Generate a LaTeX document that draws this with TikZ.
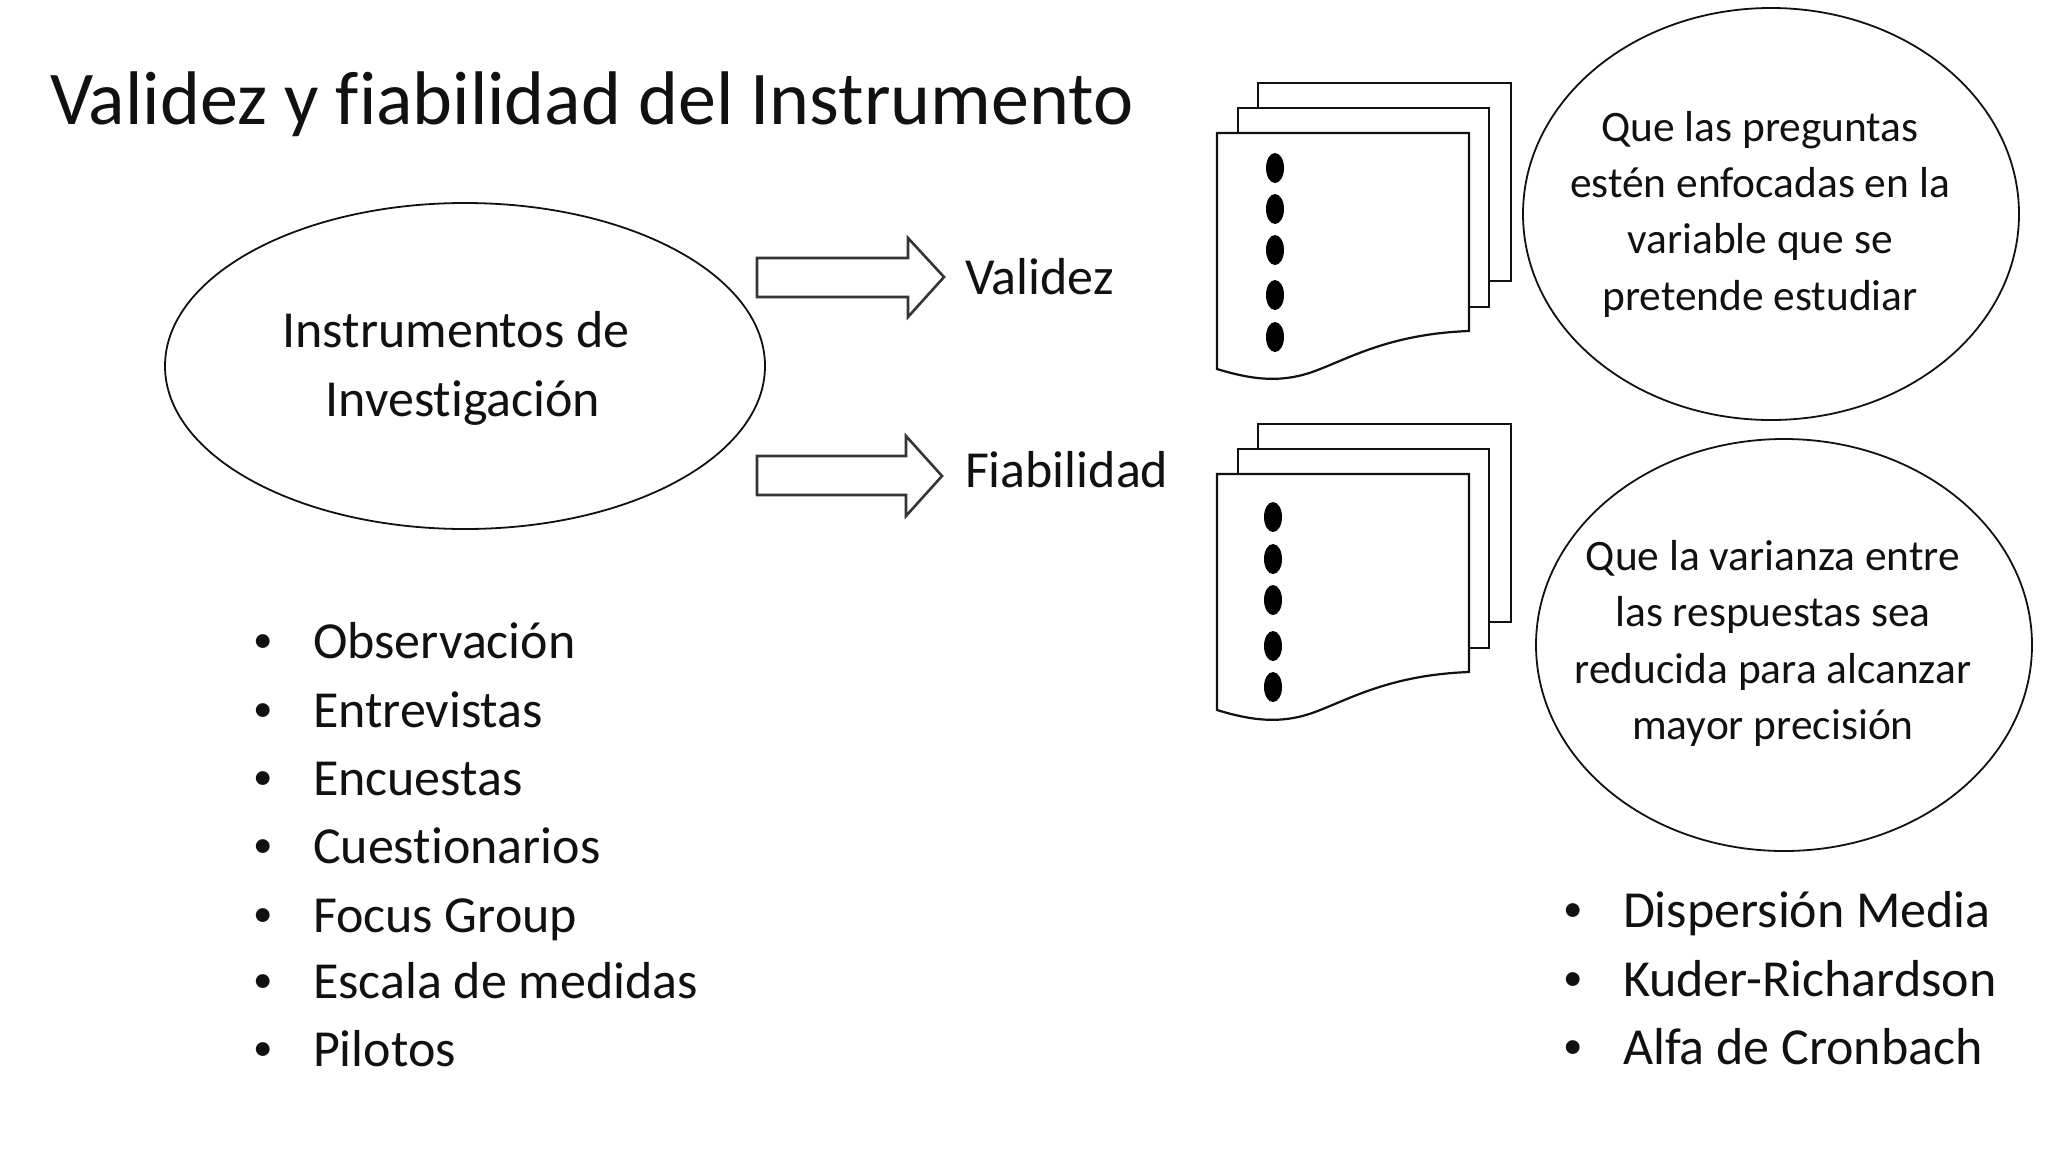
\documentclass[tikz,border=0pt]{standalone}
\usepackage{fontspec}
\setmainfont[Ligatures=NoCommon]{Carlito}
\definecolor{ink}{HTML}{111111}
\tikzset{
  x=1pt,y=-1pt,
  lbl/.style={inner sep=0pt,outer sep=0pt,anchor=base west,text=ink,font=\fontsize{52}{62}\selectfont},
  mid/.style={inner sep=0pt,outer sep=0pt,anchor=base,text=ink,font=\fontsize{43.4}{52}\selectfont},
  bul/.style={inner sep=0pt,outer sep=0pt,anchor=base,text=ink,font=\fontsize{39}{46}\selectfont},
  oval/.style={draw=ink,line width=1.8pt,fill=white},
  sheet/.style={draw=ink,line width=2.2pt,fill=white,line join=miter},
  blockarrow/.style={draw=ink!85,line width=2.6pt,fill=white,line join=miter},
  dotmark/.style={fill=black,draw=none}
}
\newcommand{\docstack}[1]{%
  \begin{scope}[yshift=-#1pt]
    \draw[sheet] (1258,83) rectangle (1511,281);
    \draw[sheet] (1238,108) rectangle (1489,307);
    \draw[sheet] (1217,133) -- (1469,133) -- (1469,331)
       .. controls (1390,334) and (1350,358) .. (1315,371)
       .. controls (1280,384) and (1250,379) .. (1217,369) -- cycle;
  \end{scope}}
\begin{document}
\begin{tikzpicture}
\useasboundingbox (0,0) rectangle (2048,1152);
\fill[white] (0,0) rectangle (2048,1152);
\node[lbl,font=\fontsize{76}{90}\selectfont] (title) at (50,124) {Validez y fiabilidad del Instrumento};

\draw[oval] (465,366) ellipse (300 and 163);
\node[lbl,anchor=base] (inst1) at (456,347) {Instrumentos de};
\node[lbl,anchor=base] (inst2) at (463,416) {Investigación};

\draw[blockarrow] (757,258) -- (908,258) -- (908,238) -- (944,277) -- (908,317) -- (908,297) -- (757,297) -- cycle;
\draw[blockarrow] (757,456) -- (906,456) -- (906,436) -- (942,476) -- (906,516) -- (906,495) -- (757,495) -- cycle;
\node[lbl] (val) at (965,294) {Validez};
\node[lbl] (fia) at (965,487) {Fiabilidad};

\docstack{0}
\foreach \yy in {168,209,250,295,337}
  \fill[dotmark] (1275,\yy) ellipse (9 and 15);
\docstack{341}
\foreach \yy in {517,559,600,646,687}
  \fill[dotmark] (1273,\yy) ellipse (9 and 15);

\draw[oval] (1771,214) ellipse (248 and 206);
\draw[oval] (1784,645) ellipse (248 and 206);
\node[mid] (a1) at (1760,141) {Que las preguntas};
\node[mid] (a2) at (1760,197) {estén enfocadas en la};
\node[mid] (a3) at (1760,253) {variable que se};
\node[mid] (a4) at (1760,310) {pretende estudiar};
\node[mid] (b1) at (1773,570) {Que la varianza entre};
\node[mid] (b2) at (1773,626) {las respuestas sea};
\node[mid] (b3) at (1773,683) {reducida para alcanzar};
\node[mid] (b4) at (1773,739) {mayor precisión};

\foreach \nm/\yy/\tx in {l1/658/Observación,l2/727/Entrevistas,l3/795/Encuestas,l4/863/Cuestionarios,l5/932/Focus Group,l6/998/Escala de medidas,l7/1066/Pilotos}{
  \node[bul] (\nm b) at (263,\yy-6) {•};
  \node[lbl] (\nm) at (313,\yy) {\tx};
}
\foreach \nm/\yy/\tx in {r1/927/Dispersión Media,r2/996/Kuder-Richardson,r3/1064/Alfa de Cronbach}{
  \node[bul] (\nm b) at (1573,\yy-6) {•};
  \node[lbl] (\nm) at (1623,\yy) {\tx};
}
\end{tikzpicture}
\end{document}
